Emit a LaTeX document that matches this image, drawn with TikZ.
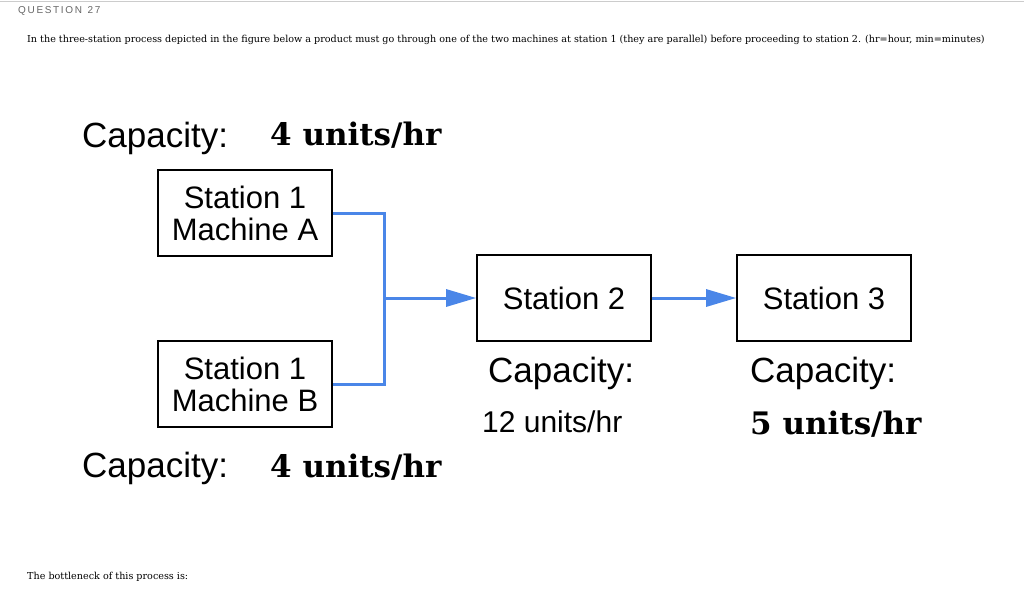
\documentclass[tikz,border=0pt]{standalone}
\usepackage{fontspec}
\setmainfont{Liberation Serif}
\setsansfont{Liberation Sans}
\newfontfamily\slabfont{DejaVu Serif}
\usetikzlibrary{arrows.meta}
\definecolor{flowblue}{RGB}{74,134,232}
\begin{document}
\begin{tikzpicture}[x=1pt,y=-1pt,
  stationbox/.style={draw,line width=1.6pt,minimum width=174pt,minimum height=86pt,inner sep=0pt,align=center,font=\sffamily\fontsize{31}{36}\selectfont},
  caplabel/.style={anchor=base west,inner sep=0pt,font=\sffamily\fontsize{35}{38}\selectfont},
  rateserif/.style={anchor=base west,inner sep=0pt,font=\slabfont\bfseries\fontsize{31}{36}\selectfont},
  flow/.style={draw=flowblue,line width=3pt},
  flowarrow/.style={flow,-{Triangle[length=30pt,width=17pt]}}]
\useasboundingbox (0,0) rectangle (1024,597);
\draw[gray!40] (0,1) -- (1024,1);
\node[anchor=base west,inner sep=0pt,text=gray!80!black,font=\sffamily\fontsize{10}{11}\selectfont] (qnum) at (18,13) {Q\,U\,E\,S\,T\,I\,O\,N\ \ 2\,7};
\node[anchor=base west,inner sep=0pt,font=\slabfont\fontsize{9.6}{12}\selectfont] (intro) at (27,42) {In the three-station process depicted in the figure below a product must go through one of the two machines at station 1 (they are parallel) before proceeding to station 2. (hr=hour, min=minutes)};
% top machine
\node[caplabel] (capA) at (82,147) {Capacity:};
\node[rateserif] (rateA) at (270,145) {4 units/hr};
\node[stationbox] (machA) at (245,213) {Station 1\\[-4pt]Machine A};
% bottom machine
\node[stationbox] (machB) at (245,384) {Station 1\\[-4pt]Machine B};
\node[caplabel] (capB) at (82,477) {Capacity:};
\node[rateserif] (rateB) at (270,477) {4 units/hr};
% stations 2 and 3
\node[stationbox] (st2) at (564,298) {Station 2};
\node[stationbox] (st3) at (824,298) {Station 3};
\node[caplabel] (cap2) at (488,382) {Capacity:};
\node[anchor=base west,inner sep=0pt,font=\sffamily\fontsize{30}{32}\selectfont] (rate2) at (482,432) {12 units/hr};
\node[caplabel] (cap3) at (750,382) {Capacity:};
\node[rateserif] (rate3) at (750,434) {5 units/hr};
\coordinate (join) at (384,298);
\draw[flow] (machA.east) -| (join) |- (machB.east);
\draw[flowarrow] (join) -- (st2.west);
\draw[flowarrow] (st2.east) -- (st3.west);
\node[anchor=base west,inner sep=0pt,font=\slabfont\fontsize{9.6}{12}\selectfont] (ask) at (27,579) {The bottleneck of this process is:};
\end{tikzpicture}
\end{document}
